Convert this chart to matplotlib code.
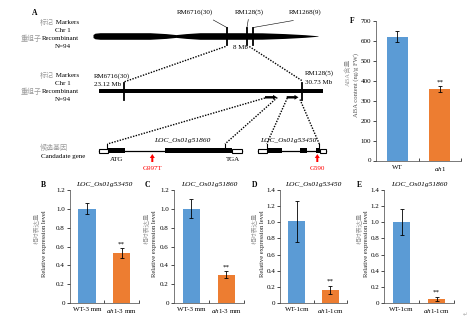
import matplotlib
matplotlib.use("Agg")
import matplotlib.pyplot as plt
import numpy as np
from matplotlib.patches import Rectangle

W, H = 474, 322
FONTS = ['Liberation Serif', 'Noto Sans CJK SC']
plt.rcParams['font.family'] = FONTS
plt.rcParams['font.size'] = 5
plt.rcParams['mathtext.fontset'] = 'custom'
plt.rcParams['mathtext.rm'] = 'Liberation Serif'
plt.rcParams['mathtext.it'] = 'Liberation Serif:italic'

BLUE = '#5B9BD5'
ORANGE = '#ED7D31'
CN_GRAY = '#9a9a9a'

# ---- panel A data (positions in pixels of the schematic) ----
top_markers = ['RM6716(30)', 'RM128(5)', 'RM1268(9)']
top_marker_x = [227.5, 246.7, 252.8]
top_label_x = [195, 249, 305]
fine_markers = ['RM6716(30)', 'RM128(5)']
fine_marker_pos = ['23.12 Mb', '30.73 Mb']
fine_marker_x = [123.8, 302.5]
chr_x = [93, 95, 100, 150, 166, 176, 186, 200, 240, 262, 285, 305, 318]
chr_hw = [1.5, 2.8, 3.3, 3.3, 2.4, 1.4, 2.4, 3.3, 3.3, 3.2, 2.4, 1.3, 0.2]
gene_names = ['LOC_Os01g51860', 'LOC_Os01g53450']
gene_span = [(99.3, 241.7), (258.3, 326)]
gene_utr = [[(99.3, 108.3), (231.7, 241.7)], [(258.3, 266.7), (320, 326)]]
gene_exon = [[(108.3, 125), (165, 231.7)], [(266.7, 281.7), (300, 306.7), (316, 320)]]
gene_tick_x = [(107.3, 225), (266.7, 319.3)]
mutations = ['G997T', 'G590']
mutation_x = [152.3, 317.3]

# ---- panels B-E: relative expression ----
expr_titles = ['LOC_Os01g53450', 'LOC_Os01g51860', 'LOC_Os01g53450', 'LOC_Os01g51860']
expr_letters = ['B', 'C', 'D', 'E']
expr_labels = [['WT-3 mm', '$ah1$-3 mm'], ['WT-3 mm', '$ah1$-3 mm'],
               ['WT-1cm', '$ah1$-1cm'], ['WT-1cm', '$ah1$-1cm']]
expr_mean = [[1.00, 0.53], [1.00, 0.30], [1.01, 0.165], [1.00, 0.05]]
expr_err = [[0.06, 0.05], [0.10, 0.035], [0.25, 0.05], [0.16, 0.03]]
expr_ymax = [1.2, 1.2, 1.4, 1.4]

# ---- panel F: ABA content ----
aba_labels = ['WT', '$ah1$']
aba_mean = [620, 356]
aba_err = [27, 15]

fig = plt.figure(figsize=(W / 100, H / 100), dpi=100)
ax0 = fig.add_axes([0, 0, 1, 1])
ax0.set_xlim(0, W)
ax0.set_ylim(H, 0)
ax0.axis('off')


def label_pair(y, cn, en, x_split):
    ax0.text(x_split, y, cn, ha='right', va='center', color=CN_GRAY, fontsize=5)
    ax0.text(x_split + 0.5, y, en, ha='left', va='center', color='black', fontsize=5)


def dotted(x0, y0, x1, y1):
    ax0.plot([x0, x1], [y0, y1], color='black', lw=1.0, ls=(0, (1, 1)))


# panel A text block
ax0.text(32, 13, 'A', fontsize=5.5, fontweight='bold', va='center')
for y0 in (22.5, 75.5):
    label_pair(y0, '标记', ' Markers', 54)
    ax0.text(63, y0 + 7.5, 'Chr 1', ha='center', va='center', fontsize=5)
    label_pair(y0 + 16, '重组子', 'Recombinant', 41.5)
    ax0.text(63, y0 + 23.5, 'N=94', ha='center', va='center', fontsize=5)

# top chromosome
cy = 36
ax0.fill_between(chr_x, cy - np.array(chr_hw), cy + np.array(chr_hw), color='black', lw=0)
for name, mx, lx in zip(top_markers, top_marker_x, top_label_x):
    ax0.plot([mx, mx], [27.5, 44.5], color='black', lw=1.3)
    ax0.text(lx, 12.5, name, ha='center', va='center', fontsize=5)
ax0.plot([213.3, 227.7], [20, 28], color='black', lw=0.4)
ax0.plot([248.3, 246.7], [19.5, 29], color='black', lw=0.4)
ax0.plot([293.3, 253.3], [20.5, 27.5], color='black', lw=0.4)
ax0.text(240, 47.5, '8 Mb', ha='center', va='center', fontsize=5)
dotted(225.5, 46.5, fine_marker_x[0], 82)
dotted(249.3, 46.5, fine_marker_x[1], 81)

# fine map chromosome
ax0.add_patch(Rectangle((99.3, 89.2), 224, 4, color='black', lw=0))
for mx in fine_marker_x:
    ax0.plot([mx, mx], [82.5, 99.5], color='black', lw=1.3)
ax0.text(94.3, 76, fine_markers[0], ha='left', va='center', fontsize=5)
ax0.text(94.3, 84, fine_marker_pos[0], ha='left', va='center', fontsize=5)
ax0.text(305, 73.5, fine_markers[1], ha='left', va='center', fontsize=5)
ax0.text(305, 82.5, fine_marker_pos[1], ha='left', va='center', fontsize=5)
for ax_, ax1 in ((265, 277), (286.7, 298.5)):
    ax0.arrow(ax_, 97.3, ax1 - ax_, 0, width=2.4, head_width=4.8, head_length=4,
              length_includes_head=True, color='black', lw=0)
dotted(265, 98, gene_tick_x[0][0], 144)
dotted(277.3, 97.5, gene_tick_x[0][1], 144)
dotted(287.3, 98, gene_tick_x[1][0], 144)
dotted(300, 99.5, gene_tick_x[1][1], 144)

# candidate genes
ax0.text(54, 147.5, '候选基因', ha='center', va='center', color=CN_GRAY, fontsize=5)
ax0.text(63, 156, 'Candadate gene', ha='center', va='center', fontsize=5)
gy = 150.8
for i in range(2):
    ax0.plot(gene_span[i], [gy, gy], color='black', lw=0.9)
    for a, b in gene_utr[i]:
        ax0.add_patch(Rectangle((a, gy - 1.8), b - a, 3.6, facecolor='white',
                                edgecolor='black', lw=0.8, zorder=3))
    for a, b in gene_exon[i]:
        ax0.add_patch(Rectangle((a, gy - 2.5), b - a, 5, color='black', lw=0, zorder=3))
    for tx in gene_tick_x[i]:
        ax0.plot([tx, tx], [gy, 143.5], color='black', lw=0.8)
    ax0.arrow(mutation_x[i], 162, 0, -8, width=2.0, head_width=5, head_length=4,
              length_includes_head=True, color='red', lw=0)
    ax0.text(mutation_x[i], 168.5, mutations[i], ha='center', va='center',
             color='red', fontsize=5)
ax0.text(182, 140, gene_names[0], ha='center', va='center', fontsize=5.3, style='italic')
ax0.text(288, 140, gene_names[1], ha='center', va='center', fontsize=5.3, style='italic')
ax0.text(116.7, 159.5, 'ATG', ha='center', va='center', fontsize=5)
ax0.text(233, 159.5, 'TGA', ha='center', va='center', fontsize=5)


def px_axes(x0, x1, ytop, ybot):
    a = fig.add_axes([x0 / W, 1 - ybot / H, (x1 - x0) / W, (ybot - ytop) / H])
    a.patch.set_alpha(0)
    return a


def bar_panel(ax, labels, means, errs, ymax, step, fmt):
    x = np.arange(len(means))
    ax.bar(x, means, width=0.5, color=[BLUE, ORANGE])
    ax.errorbar(x, means, yerr=errs, fmt='none', ecolor='black', elinewidth=0.6,
                capsize=1.3, capthick=0.6)
    ax.annotate('**', (1, means[1] + errs[1]), xytext=(0, 1.5), textcoords='offset points',
                ha='center', va='bottom', fontsize=5)
    ax.set_xlim(-0.5, 1.5)
    ax.set_ylim(0, ymax)
    ticks = np.arange(0, ymax + step / 2, step)
    ax.set_yticks(ticks)
    ax.set_yticklabels([fmt(t) for t in ticks])
    ax.set_xticks(x)
    ax.set_xticklabels(labels)
    ax.set_xticks([0.5, 1.5], minor=True)
    ax.tick_params(axis='x', which='major', length=0, pad=3, labelsize=5)
    ax.tick_params(axis='x', which='minor', direction='in', length=2.5, width=0.5)
    ax.tick_params(axis='y', direction='out', length=2, width=0.5, pad=1.5, labelsize=5)
    for s in ('top', 'right'):
        ax.spines[s].set_visible(False)
    for s in ('left', 'bottom'):
        ax.spines[s].set_linewidth(0.5)
        ax.spines[s].set_color('#444444')


def fmt_rel(v):
    return '0' if abs(v) < 1e-9 else f'{v:.1f}'


expr_box = [(69.75, 138.75), (173.8, 243.8), (280, 347), (384, 454)]
ylab_x = [(36, 45), (146, 155), (254, 262.5), (359, 366.5)]
letter_x = [43, 147, 255, 359]
for i in range(4):
    x0, x1 = expr_box[i]
    ax = px_axes(x0, x1, 190, 303)
    bar_panel(ax, expr_labels[i], expr_mean[i], expr_err[i], expr_ymax[i], 0.2, fmt_rel)
    ax0.text((x0 + x1) / 2, 184.5, expr_titles[i], ha='center', va='center',
             fontsize=5.3, style='italic')
    ax0.text(letter_x[i], 185, expr_letters[i], ha='center', va='center',
             fontsize=5.5, fontweight='bold')
    ax0.text(ylab_x[i][0], 228, '相对表达量', rotation=90, ha='center', va='center',
             color=CN_GRAY, fontsize=4.5)
    ax0.text(ylab_x[i][1], 244, 'Relative expression level', rotation=90,
             ha='center', va='center', fontsize=4.8, color='#222222')

axf = px_axes(376.25, 461, 20.7, 160.5)
bar_panel(axf, aba_labels, aba_mean, aba_err, 700, 100, lambda v: f'{v:.0f}')
ax0.text(352, 20.5, 'F', ha='center', va='center', fontsize=5.5, fontweight='bold')
ax0.text(348, 72, 'ABA含量', rotation=90, ha='center', va='center', color=CN_GRAY, fontsize=4.8)
ax0.text(356.5, 85, 'ABA content (ng/g FW)', rotation=90, ha='center', va='center',
         color='#555555', fontsize=4.8)
ax0.text(465, 315, '↵', ha='center', va='center', color='#aaaaaa', fontsize=4,
         family='DejaVu Sans')

fig.savefig('out.png', dpi=100)
